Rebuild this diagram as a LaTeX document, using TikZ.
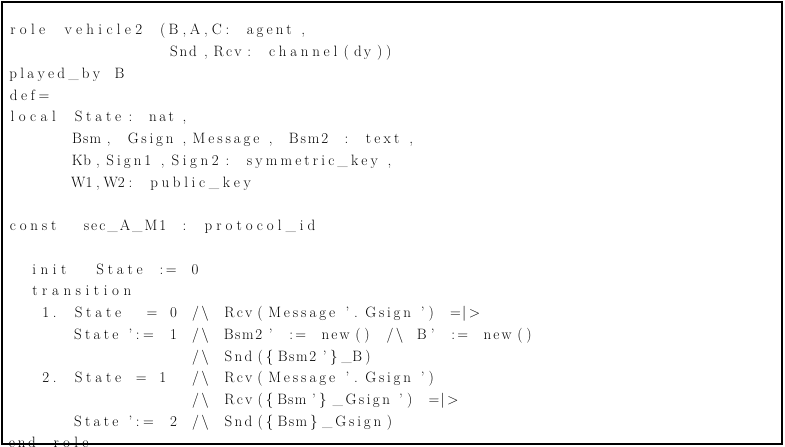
\documentclass[tikz,border=0pt]{standalone}
\usepackage{fontspec}
\usepackage{listings}
\begin{filecontents*}[overwrite]{code.txt}
role vehicle2 (B,A,C: agent,
               Snd,Rcv: channel(dy))
played_by B
def=
local State: nat,
      Bsm, Gsign,Message, Bsm2 : text,
      Kb,Sign1,Sign2: symmetric_key,
      W1,W2: public_key

const  sec_A_M1 : protocol_id

  init  State := 0
  transition
   1. State  = 0 /\ Rcv(Message'.Gsign') =|>
      State':= 1 /\ Bsm2' := new() /\ B' := new()
                 /\ Snd({Bsm2'}_B)
   2. State = 1  /\ Rcv(Message'.Gsign')
                 /\ Rcv({Bsm'}_Gsign') =|>
      State':= 2 /\ Snd({Bsm}_Gsign)
end role
\end{filecontents*}
\lstset{basicstyle=\fontsize{15}{21.74}\selectfont, basewidth=10.8pt, columns=fixed,
  aboveskip=0pt, belowskip=0pt, xleftmargin=0pt, showstringspaces=false, keepspaces=true}
\begin{document}
\begin{tikzpicture}[x=1pt,y=-1pt]
\useasboundingbox (0,0) rectangle (785,447);
\draw[line width=1.2pt] (2,2) rectangle (782,444);
\node[anchor=north west, inner sep=0pt, text width=770pt] (code) at (6,13)
  {\lstinputlisting{code.txt}};
\end{tikzpicture}
\end{document}
